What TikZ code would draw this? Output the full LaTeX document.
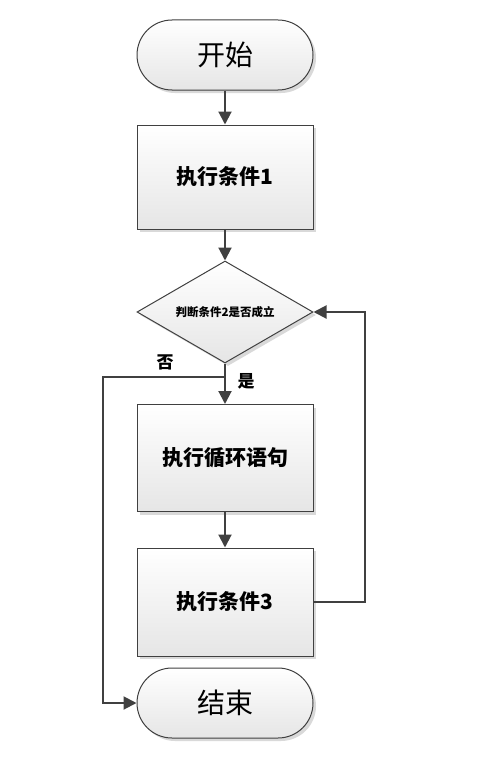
\documentclass[tikz,border=0pt]{standalone}
\usepackage{fontspec}
\setmainfont{Noto Sans CJK SC}
\usetikzlibrary{shapes.geometric,arrows.meta,shadows}
\definecolor{lc}{HTML}{404040}
\begin{document}
\begin{tikzpicture}[x=1pt,y=-1pt,
  box/.style={draw=lc, line width=1pt, top color=white, bottom color=black!10,
    drop shadow={shadow xshift=3pt, shadow yshift=-3pt, fill=black!15, opacity=1},
    minimum width=176pt, inner sep=0pt, font=\bfseries\fontsize{21}{24}\selectfont},
  term/.style={box, rounded corners=35pt, minimum height=70pt, font=\fontsize{28}{32}\selectfont},
  dec/.style={box, diamond, shape aspect=1.72, minimum height=102pt, font=\bfseries\fontsize{11.5}{14}\selectfont},
  conn/.style={draw=lc, line width=2pt},
  arr/.style={conn, -{Triangle[length=13pt,width=13pt]}},
  lab/.style={font=\bfseries\fontsize{17}{19}\selectfont, text=black}]
\useasboundingbox (0,0) rectangle (497,768);
\node[term] (start) at (225,55) {开始};
\node[box, minimum height=104pt] (r1) at (225,177) {执行条件1};
\node[dec] (dia) at (225,312) {判断条件2是否成立};
\node[box, minimum height=107pt] (r2) at (225,458) {执行循环语句};
\node[box, minimum height=108pt] (r3) at (225,602) {执行条件3};
\node[term] (end) at (225,703) {结束};
\coordinate (nj) at (225,377);
\coordinate (nl) at (103,377);
\coordinate (loopr) at (365,312);
\draw[arr] (start) -- (r1);
\draw[arr] (r1) -- (dia);
\draw[arr] (dia) -- (r2);
\draw[arr] (r2) -- (r3);
\draw[arr] (r3.east) -| (loopr) -- (dia.east);
\draw[arr] (nj) -- (nl) |- (end);
\node[lab] (yes) at (246,381) {是};
\node[lab] (no) at (165,362) {否};
\end{tikzpicture}
\end{document}
